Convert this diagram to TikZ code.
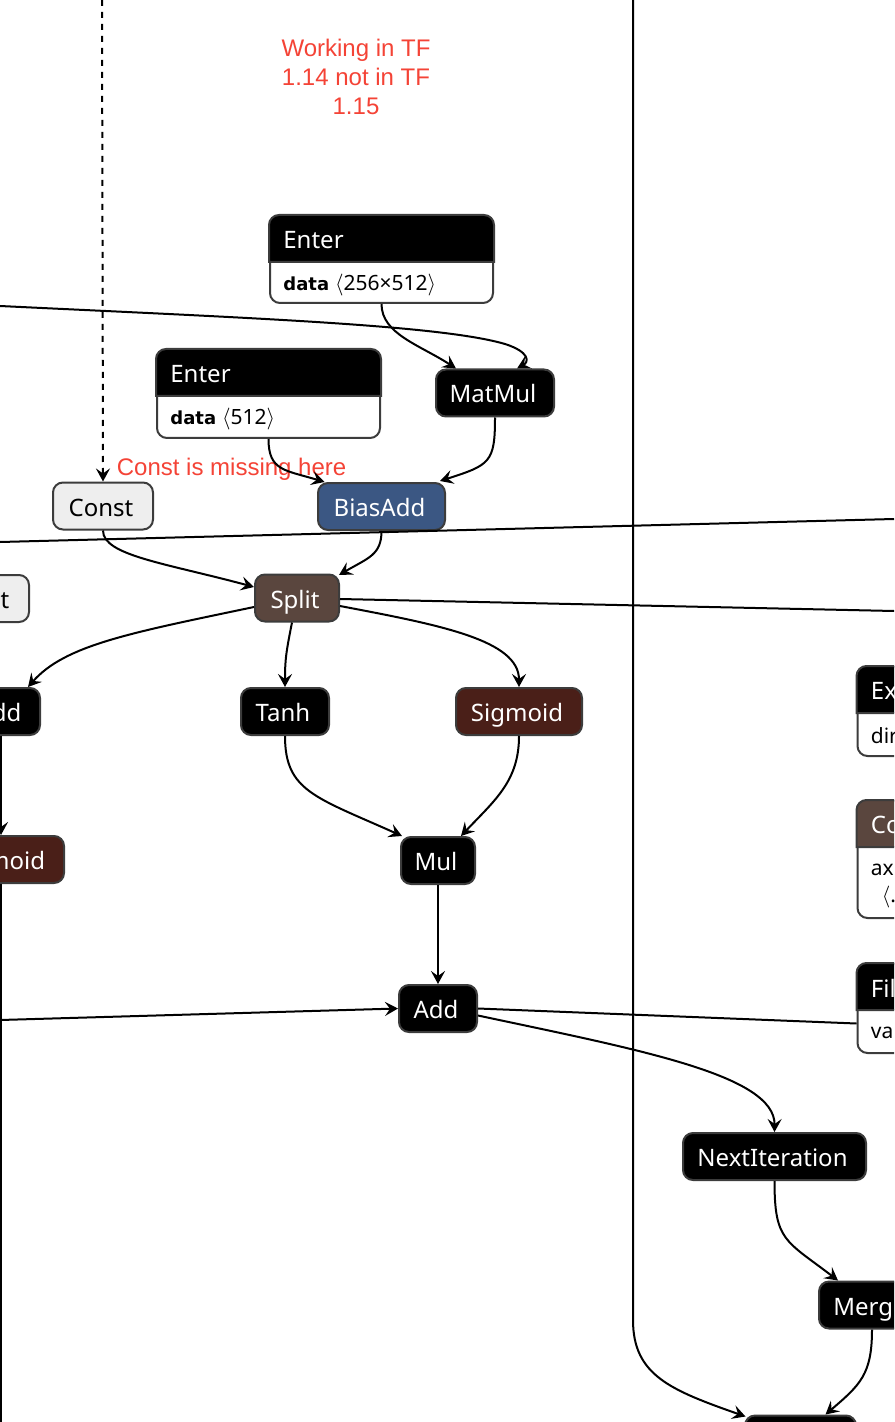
\documentclass[tikz,border=0pt]{standalone}
\usepackage{fontspec}
\setmainfont{Noto Sans}
\newfontfamily\notefont{Liberation Sans}
\newfontfamily\attrbold{DejaVu Sans}
\usetikzlibrary{arrows.meta}

\definecolor{edgegray}{HTML}{3C3C3C}
\definecolor{notered}{HTML}{F44336}
\definecolor{splitbrown}{HTML}{5A463E}
\definecolor{biasblue}{HTML}{3B5783}
\definecolor{sigmoidred}{HTML}{4A1F18}
\definecolor{constgray}{HTML}{EEEEEE}

\newcommand{\attrname}[1]{{\attrbold\bfseries\fontsize{9}{12}\selectfont #1}}

\tikzset{
	>={Stealth[length=6.5pt,width=7pt,inset=2.5pt]},
	wide/.style={minimum width=#1*0.5pt},
	tall/.style={minimum height=#1*0.5pt},
	edge/.style={->,line width=1pt,black},
	plainedge/.style={line width=1pt,black},
	opnode/.style={draw=edgegray,line width=1pt,rounded corners=5pt,tall=47,inner sep=0pt,font=\fontsize{12}{14}\selectfont,text=white,fill=black,text height=10pt,text depth=0pt,execute at end node={\kern2pt}},
	opconst/.style={opnode,fill=constgray,text=black},
	opsplit/.style={opnode,fill=splitbrown},
	opbias/.style={opnode,fill=biasblue},
	opsigmoid/.style={opnode,fill=sigmoidred},
	attrbody/.style={draw=edgegray,line width=1pt,rounded corners=5pt,fill=white,inner sep=0pt},
	headtext/.style={anchor=west,inner sep=0pt,text=white,font=\fontsize{12}{14}\selectfont},
	attrtext/.style={anchor=west,inner sep=0pt,text=black,font=\fontsize{10.5}{12}\selectfont},
	notetext/.style={text=notered,inner sep=0pt,font=\notefont\fontsize{12}{14.5}\selectfont}
}

% name, centre, width, height, header height, header colour, title, attribute
\newcommand{\attrnode}[8]{
	\node[attrbody,wide=#3,tall=#4] (#1) at (#2) {};
	\draw[draw=edgegray,line width=1pt,fill=#6] ([shift={(0,#5)}]#1.north west) [rounded corners=5pt] -- (#1.north west) -- (#1.north east) [sharp corners] -- ([shift={(0,#5)}]#1.north east) -- cycle;
	\node[headtext] (#1head) at ([shift={(14,25)}]#1.north west) {#7};
	\node[attrtext] (#1attr) at ([shift={(14,#5+23)}]#1.north west) {#8};
}

\begin{document}
\begin{tikzpicture}[x=0.5pt,y=-0.5pt]
	\useasboundingbox (0,0) rectangle (894,1422);
	\clip (0,0) rectangle (894,1422);

	% free ends at the page edge
	\coordinate (dashtop) at (102,0);
	\coordinate (matleft) at (0,306);
	\coordinate (midleft) at (0,542);
	\coordinate (midright) at (894,519);
	\coordinate (splitright) at (894,611);
	\coordinate (addleft) at (0,1020);
	\coordinate (looptop) at (633,0);
	\coordinate (sidebottom) at (1,1422);

	\node[notetext,align=center] (notetf) at (356,77) {Working in TF\\1.14 not in TF\\1.15};
	\node[notetext,anchor=west] (noteconst) at (116.5,469.5) {Const is missing here};

	\attrnode{enterA}{381.5,259.5}{223}{87}{47}{black}{Enter}{\attrname{data}\;$\langle$256×512$\rangle$}
	\attrnode{enterB}{268.5,394}{223}{88}{47}{black}{Enter}{\attrname{data}\;$\langle$512$\rangle$}

	\node[opnode,wide=118] (matmul) at (495,393) {MatMul};
	\node[opconst,wide=100] (constA) at (103,506) {Const};
	\node[opbias,wide=127] (biasadd) at (381.5,506.5) {BiasAdd};
	\node[opconst,wide=100] (constB) at (-21,598.5) {\phantom{Cons}t};
	\node[opsplit,wide=84] (split) at (297,598) {Split};
	\node[opnode,wide=78] (addA) at (1,711.5) {\phantom{A}dd};
	\node[opnode,wide=88] (tanh) at (285,711.5) {Tanh};
	\node[opsigmoid,wide=126] (sigmoidA) at (519,711.5) {Sigmoid};
	\node[opsigmoid,wide=126] (sigmoidB) at (1,859.5) {\phantom{Sig}moid};
	\node[opnode,wide=74] (mul) at (438,860.5) {Mul};
	\node[opnode,wide=78] (addB) at (438,1008.5) {Add};
	\node[opnode,wide=183] (nextiter) at (774.5,1156.5) {NextIteration};
	\node[opnode,wide=106] (merge) at (872,1305) {Merg\phantom{e}};
	\node[opnode,wide=111] (loopnode) at (800.5,1439) {};

	\attrnode{expand}{917.5,711.5}{120}{89}{47}{black}{Ex}{dir}
	\attrnode{concat}{917.5,859.5}{120}{117}{47}{splitbrown}{Co}{ax}
	\node[attrtext] (concatshape) at ([shift={(25,97)}]concat.north west) {$\langle$.};
	\attrnode{fill}{917.5,1008.5}{120}{89}{47}{black}{Fil}{va}

	\draw[edge,dashed] (dashtop) -- (constA.north);
	\draw[edge] (matleft) .. controls (250,318) and (440,325) .. (505,344) .. controls (530,352) and (529,362) .. ([shift={(22,0)}]matmul.north);
	\draw[edge] (enterA.south) .. controls +(0,30) and (420,345) .. ([shift={(-39,0)}]matmul.north);
	\draw[edge] (matmul.south) .. controls +(0,45) and (490,465) .. ([shift={(-55,-1)}]matmul.south |- biasadd.north);
	\draw[edge] (enterB.south) .. controls +(0,32) and (285,470) .. ([shift={(-57,0)}]biasadd.north);
	\draw[plainedge] (midleft) -- (midright);
	\draw[edge] (constA.south) .. controls +(0,25) and (165,563) .. ([shift={(0,-11)}]split.west);
	\draw[edge] (biasadd.south) .. controls +(0,24) and (368,558) .. ([shift={(42,-23)}]split.center);
	\draw[plainedge] ([shift={(0,1)}]split.east) -- (splitright);
	\draw[edge] ([shift={(0,8)}]split.east) .. controls (440,625) and (519,640) .. (sigmoidA.north);
	\draw[edge] ([shift={(-5,0)}]split.south) .. controls +(-6,30) and (285,660) .. (tanh.north);
	\draw[edge] ([shift={(0,9)}]split.west) .. controls (130,633) and (65,645) .. ([shift={(27,0)}]addA.north);
	\draw[edge] (addA.south) -- (sigmoidB.north);
	\draw[plainedge] (sigmoidB.south) -- (sidebottom);
	\draw[edge] (tanh.south) .. controls +(0,55) and (315,797) .. ([shift={(-36,0)}]mul.north);
	\draw[edge] (sigmoidA.south) .. controls +(0,45) and (495,800) .. ([shift={(23,0)}]mul.north);
	\draw[edge] (mul.south) -- (addB.north);
	\draw[edge] (addleft) -- (addB.west);
	\draw[plainedge] (addB.east) -- ([shift={(0,15)}]fill.west);
	\draw[edge] ([shift={(0,7)}]addB.east) .. controls (640,1050) and (775,1075) .. (nextiter.north);
	\draw[edge] (nextiter.south) .. controls +(0,60) and (785,1240) .. ([shift={(-34,0)}]merge.north);
	\draw[edge] (merge.south) .. controls +(0,45) and (860,1385) .. ([shift={(25,0)}]loopnode.north);
	\draw[edge] (looptop) -- (633,1320) .. controls (633,1375) and (670,1390) .. ([shift={(-55,2)}]loopnode.north);
\end{tikzpicture}
\end{document}
